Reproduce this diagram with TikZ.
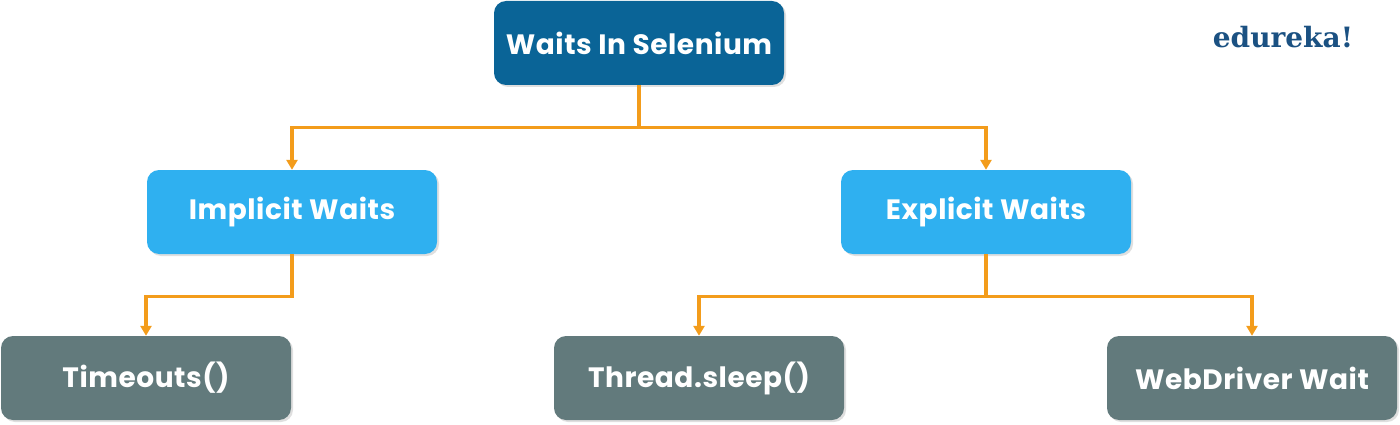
\documentclass[tikz,border=0pt]{standalone}
\usepackage{fontspec}
\setmainfont{Poppins}
\newfontfamily\boxfont[LetterSpace=2]{Poppins}
\newfontfamily\logofont{DejaVu Serif}
\usetikzlibrary{arrows.meta, shadows}
\definecolor{rootblue}{HTML}{0A6497}
\definecolor{midblue}{HTML}{2FB0F0}
\definecolor{leafgrey}{HTML}{627A7C}
\definecolor{wire}{HTML}{F39C1B}
\definecolor{logoblue}{HTML}{1B5182}
\tikzset{waitbox/.style={rounded corners=12pt, minimum width=290pt, minimum height=84pt, text=white, font=\boxfont\fontsize{28}{32}\selectfont\bfseries, drop shadow={opacity=0.25, shadow xshift=2pt, shadow yshift=-2pt}}}
\tikzset{wire/.style={draw=wire, line width=3.2pt, -{Triangle[width=11pt, length=10pt]}}}
\begin{document}
\begin{tikzpicture}[x=1pt, y=1pt]
            \useasboundingbox (0, 0) rectangle (1400, 424);
            \node[waitbox, fill=rootblue] (root) at (639, 381) {Waits In Selenium};
            \node[waitbox, fill=midblue] (implicit) at (292, 212) {Implicit Waits};
            \node[waitbox, fill=midblue] (explicit) at (986, 212) {Explicit Waits};
            \node[waitbox, fill=leafgrey] (timeouts) at (146, 46) {Timeouts()};
            \node[waitbox, fill=leafgrey] (sleep) at (699, 46) {Thread.sleep()};
            \node[waitbox, fill=leafgrey] (driverwait) at (1252, 46) {WebDriver Wait};
            \node[text=logoblue, font=\logofont\fontsize{28}{32}\selectfont\bfseries] (logo) at (1283, 387) {edureka!};
            \draw[wire] (root.south) -- ++(0, -42) -| (implicit.north);
            \draw[wire] (root.south) -- ++(0, -42) -| (explicit.north);
            \draw[wire] (implicit.south) -- ++(0, -42) -| (timeouts.north);
            \draw[wire] (explicit.south) -- ++(0, -42) -| (sleep.north);
            \draw[wire] (explicit.south) -- ++(0, -42) -| (driverwait.north);
        \end{tikzpicture}
\end{document}
